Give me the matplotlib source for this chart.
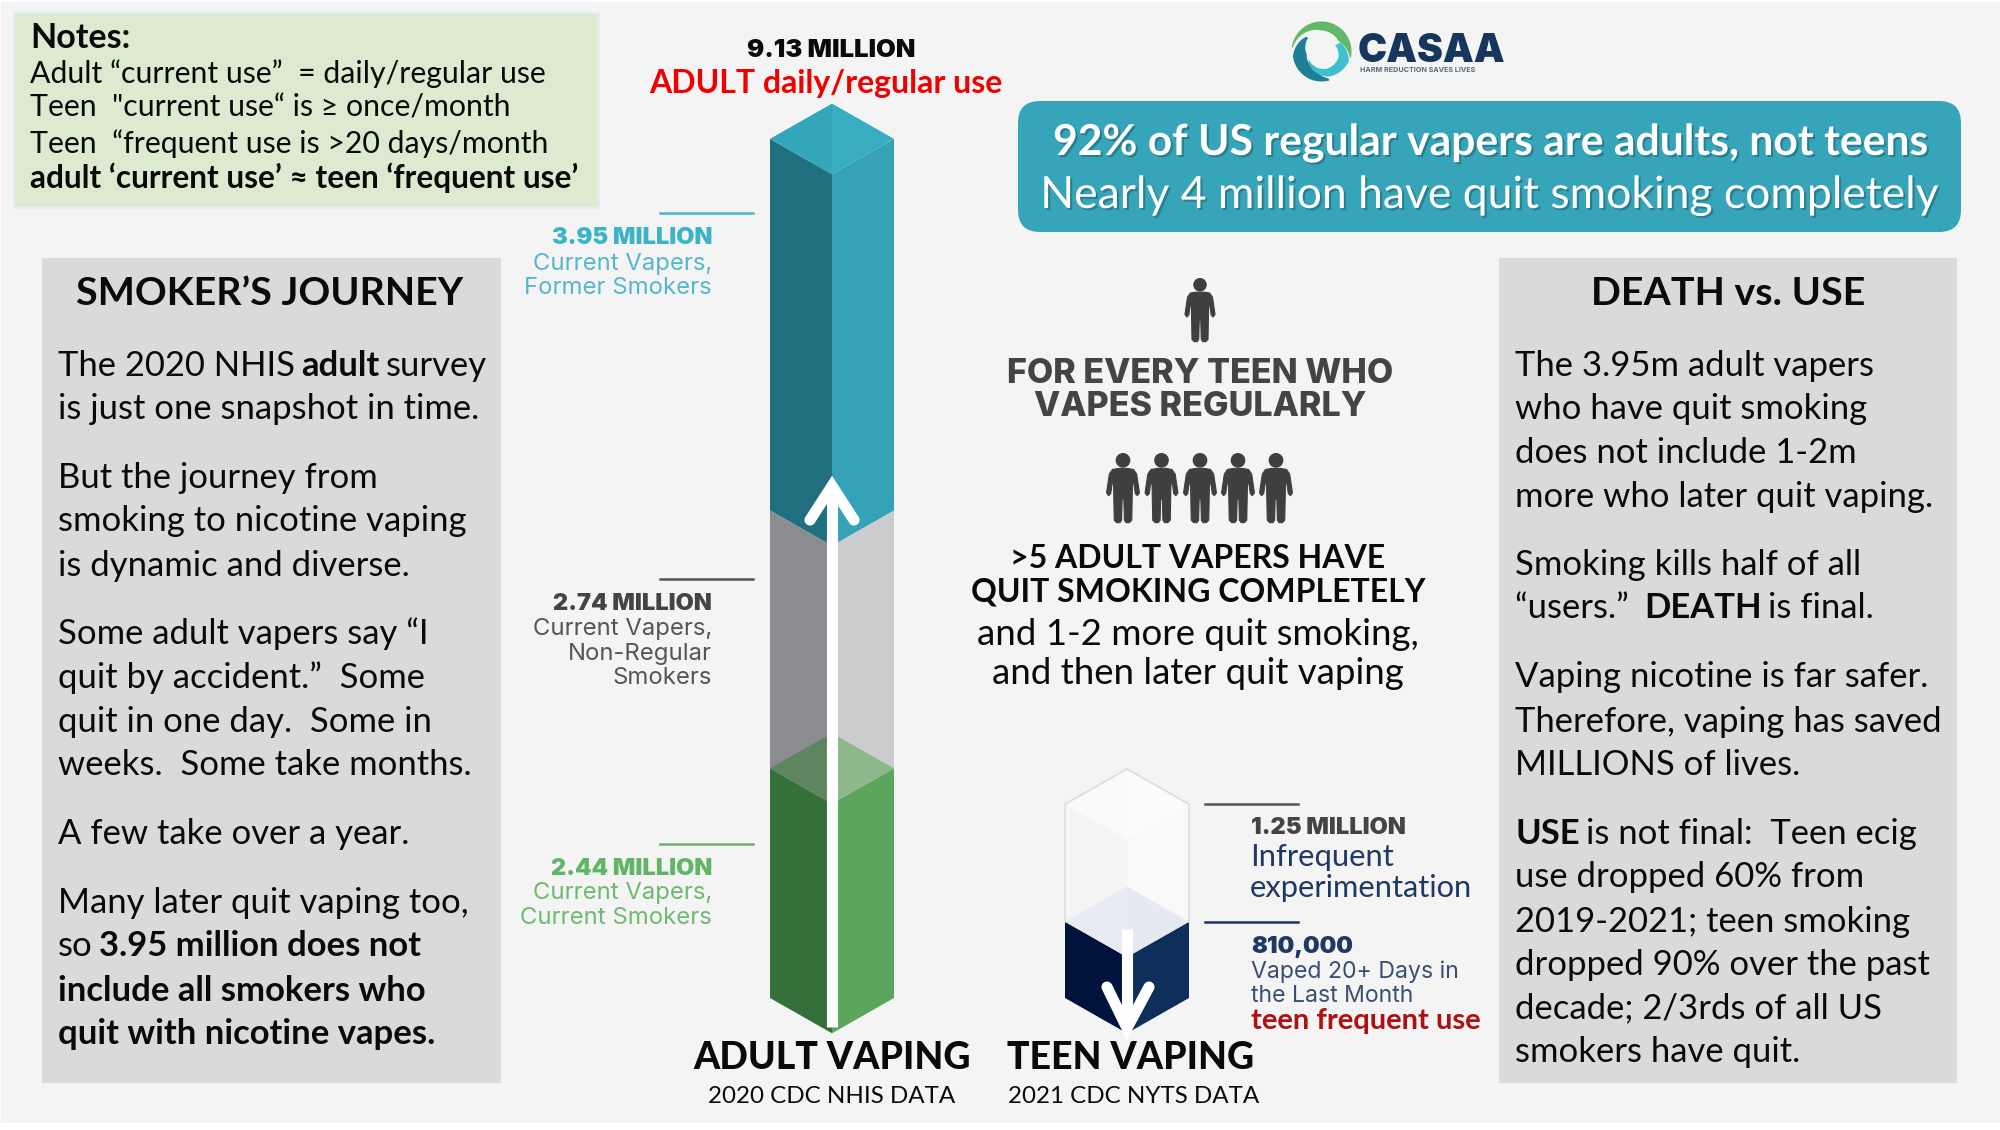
import matplotlib
matplotlib.use("Agg")
import matplotlib.pyplot as plt
import matplotlib.patheffects as pe
import numpy as np
from matplotlib.patches import Rectangle, FancyBboxPatch, Polygon, Circle

W, H = 2000, 1130
BODY = "Lato"
HEAD = "Inter"

# values in millions, bottom to top
adult_labels = ["2.44 MILLION", "2.74 MILLION", "3.95 MILLION"]
adult_values = [2.44, 2.74, 3.95]
teen_labels = ["810,000", "1.25 MILLION"]
teen_values = [0.81, 1.25]

notes_lines = [
    "Adult \u201ccurrent use\u201d  = daily/regular use",
    "Teen  \"current use\u201c is \u2265 once/month",
    "Teen  \u201cfrequent use is >20 days/month",
]
notes_bold = "adult \u2018current use\u2019 \u2248 teen \u2018frequent use\u2019"

# (display row, runs), a run with True is bold
left_panel = [
    (286, [("The 2020 NHIS", False), ("adult", True), ("survey", False)]),
    (320, [("is just one snapshot in time.", False)]),
    (374, [("But the journey from", False)]),
    (408, [("smoking to nicotine vaping", False)]),
    (443, [("is dynamic and diverse.", False)]),
    (496, [("Some adult vapers say \u201cI", False)]),
    (531, [("quit by accident.\u201d  Some", False)]),
    (565, [("quit in one day.  Some in", False)]),
    (599, [("weeks.  Some take months.", False)]),
    (653, [("A few take over a year.", False)]),
    (707, [("Many later quit vaping too,", False)]),
    (741, [("so", False), ("3.95 million does not", True)]),
    (776, [("include all smokers who", True)]),
    (810, [("quit with nicotine vapes.", True)]),
]
right_panel = [
    (286, [("The 3.95m adult vapers", False)]),
    (320, [("who have quit smoking", False)]),
    (354, [("does not include 1-2m", False)]),
    (389, [("more who later quit vaping.", False)]),
    (442, [("Smoking kills half of all", False)]),
    (476, [("\u201cusers.\u201d ", False), ("DEATH", True), ("is final.", False)]),
    (530, [("Vaping nicotine is far safer.", False)]),
    (565, [("Therefore, vaping has saved", False)]),
    (599, [("MILLIONS of lives.", False)]),
    (653, [("USE", True), ("is not final:  Teen ecig", False)]),
    (687, [("use dropped 60% from", False)]),
    (722, [("2019-2021; teen smoking", False)]),
    (756, [("dropped 90% over the past", False)]),
    (790, [("decade; 2/3rds of all US", False)]),
    (824, [("smokers have quit.", False)]),
]


def draw_runs(ax, x, y, runs, size):
    renderer = ax.figure.canvas.get_renderer()
    for text, bold in runs:
        t = ax.text(x, y, text, fontsize=size, family=BODY, color="#0a0a0a", va="baseline",
                    fontweight="bold" if bold else "normal")
        x = t.get_window_extent(renderer).x1 + size * 0.26


def draw_segment(ax, cx, bottom, top, rise, left, right):
    ax.add_patch(Polygon([(cx - 1, bottom), (cx, bottom - rise), (cx, top - rise), (cx - 1, top)],
                         facecolor=left, edgecolor="none"))
    ax.add_patch(Polygon([(cx + 1, bottom), (cx, bottom - rise), (cx, top - rise), (cx + 1, top)],
                         facecolor=right, edgecolor="none"))


def draw_cap(ax, cx, top, rise, left, right):
    ax.add_patch(Polygon([(cx - 1, top), (cx, top + rise), (cx, top - rise)], facecolor=left, edgecolor="none"))
    ax.add_patch(Polygon([(cx + 1, top), (cx, top + rise), (cx, top - rise)], facecolor=right, edgecolor="none"))


def draw_person(ax, cx, top, h):
    c = "#3f3f41"
    half = [(0.06, 0.22), (0.15, 0.235), (0.195, 0.30), (0.235, 0.57), (0.205, 0.61), (0.175, 0.58), (0.155, 0.43),
            (0.135, 0.45), (0.125, 0.96), (0.09, 0.995), (0.045, 0.995), (0.02, 0.96), (0.012, 0.66)]
    pts = [(cx + a * h, top + b * h) for a, b in half]
    pts += [(cx - a * h, top + b * h) for a, b in half[::-1]]
    ax.add_patch(Polygon(pts, facecolor=c, edgecolor=c, linewidth=0.8, joinstyle="round"))
    ax.add_patch(Circle((cx, top + 0.105 * h), 0.105 * h, facecolor=c, edgecolor="none"))


def draw_swirl(ax, cx, cy, angles, r_out, r_in, color):
    th = np.linspace(angles[0], angles[-1], 80)
    # np.interp needs rising x, the green arc runs clockwise
    order = np.argsort(angles)
    ro = np.interp(th, np.array(angles)[order], np.array(r_out)[order])
    ri = np.interp(th, np.array(angles)[order], np.array(r_in)[order])
    rad = np.radians(th)
    xs = np.concatenate([cx + ro * np.cos(rad), (cx + ri * np.cos(rad))[::-1]])
    ys = np.concatenate([cy - ro * np.sin(rad), (cy - ri * np.sin(rad))[::-1]])
    ax.add_patch(Polygon(np.column_stack([xs, ys]), facecolor=color, edgecolor="none"))


fig = plt.figure(figsize=(W / 100, H / 100), dpi=100)
fig.patch.set_facecolor("white")
ax = fig.add_axes([0, 0, 1, 1])
ax.set_xlim(0, W)
ax.set_ylim(H, 0)
ax.axis("off")

ax.add_patch(Rectangle((1, 2), W, 1121, facecolor="#f4f4f4", edgecolor="none"))
ax.add_patch(Rectangle((14, 13), 585, 195, facecolor="#dcead0", edgecolor="#e3edf2", linewidth=1.5))
ax.add_patch(Rectangle((42, 258), 459, 825, facecolor="#d9dadc", edgecolor="none"))
ax.add_patch(Rectangle((1499, 258), 458, 825, facecolor="#d9dadc", edgecolor="none"))
ax.add_patch(FancyBboxPatch((1018, 101), 943, 131, boxstyle="round,pad=0,rounding_size=22", facecolor="#37a5b9",
                            edgecolor="none"))

# notes box
ax.text(30, 48, "Notes:", fontsize=24.5, family=BODY, fontweight="bold", color="#0a0a0a")
for y, line in zip([83, 117, 153], notes_lines):
    ax.text(30, y, line, fontsize=21.8, family=BODY, color="#0a0a0a")
ax.text(30, 188, notes_bold, fontsize=22.8, family=BODY, fontweight="bold", color="#0a0a0a")

# side panels
ax.text(270, 305, "SMOKER\u2019S JOURNEY", fontsize=28.4, family=BODY, fontweight="bold", ha="center", color="#0a0a0a")
ax.text(1728, 305, "DEATH vs. USE", fontsize=28.4, family=BODY, fontweight="bold", ha="center", color="#0a0a0a")
for row, runs in left_panel:
    draw_runs(ax, 57.5, row * 1.2755 + 11, runs, 24.9)
for row, runs in right_panel:
    draw_runs(ax, 1515, row * 1.2755 + 11, runs, 24.9)

# banner
shadow = [pe.SimplePatchShadow(offset=(1.5, -1.5), alpha=0.45, shadow_rgbFace="#16505c"), pe.Normal()]
ax.text(1490, 155, "92% of US regular vapers are adults, not teens", fontsize=30.7, family=BODY, fontweight="bold",
        ha="center", color="white", path_effects=shadow)
ax.text(1490, 208, "Nearly 4 million have quit smoking completely", fontsize=32, family=BODY,
        ha="center", color="white", path_effects=shadow)

# logo
draw_swirl(ax, 1321.5, 51.5, [172, 90, 30, -12], [30, 30, 30, 30], [29, 21, 20, 29], "#62b768")
draw_swirl(ax, 1321.5, 51.5, [135, 190, 250, 285], [21, 29, 30, 30], [19, 15, 19, 28], "#1f7f96")
draw_swirl(ax, 1321.5, 51.5, [215, 285, 340, 385], [16, 26, 29, 21], [15, 18, 18, 15], "#3fc0cf")
ax.text(1358, 62, "CASAA", fontsize=28, family=HEAD, fontweight="black", color="#17365d")
ax.text(1360, 72, "HARM REDUCTION SAVES LIVES", fontsize=5.2, family=HEAD, fontweight="bold", color="#5a6a7c")

# people
draw_person(ax, 1200, 278, 64)
for cx in [1123, 1161.5, 1200, 1238, 1276]:
    draw_person(ax, cx, 453, 70)
ax.text(1200, 383, "FOR EVERY TEEN WHO", fontsize=24.6, family=HEAD, fontweight="heavy", ha="center", color="#444446")
ax.text(1200, 416, "VAPES REGULARLY", fontsize=24.6, family=HEAD, fontweight="heavy", ha="center", color="#444446")
ax.text(1198, 568, ">5 ADULT VAPERS HAVE", fontsize=23, family=BODY, fontweight="bold", ha="center", color="#0a0a0a")
ax.text(1198, 601, "QUIT SMOKING COMPLETELY", fontsize=23, family=BODY, fontweight="bold", ha="center", color="#0a0a0a")
ax.text(1198, 645, "and 1-2 more quit smoking,", fontsize=26.4, family=BODY, ha="center", color="#0a0a0a")
ax.text(1198, 684, "and then later quit vaping", fontsize=26.4, family=BODY, ha="center", color="#0a0a0a")

# column labels
ax.text(831, 57, "9.13 MILLION", fontsize=18.4, family=HEAD, fontweight="black", ha="center", color="#0a0a0a")
ax.text(826, 93, "ADULT daily/regular use", fontsize=23, family=BODY, fontweight="bold", ha="center", color="#f00000")

ax.plot([660, 753], [213, 213], color="#4cb8ca", lw=1.8)
ax.text(712, 244, adult_labels[2], fontsize=17, family=HEAD, fontweight="black", ha="right", color="#3bb4c8")
ax.text(712, 270, "Current Vapers,", fontsize=17.2, family=HEAD, ha="right", color="#55b8ca")
ax.text(712, 294, "Former Smokers", fontsize=17.2, family=HEAD, ha="right", color="#55b8ca")

ax.plot([660, 753], [579, 579], color="#555555", lw=1.8)
ax.text(712, 610, adult_labels[1], fontsize=17, family=HEAD, fontweight="black", ha="right", color="#444446")
ax.text(712, 635, "Current Vapers,", fontsize=17.2, family=HEAD, ha="right", color="#555558")
ax.text(712, 660, "Non-Regular", fontsize=17.2, family=HEAD, ha="right", color="#555558")
ax.text(712, 684, "Smokers", fontsize=17.2, family=HEAD, ha="right", color="#555558")

ax.plot([660, 753], [844, 844], color="#6db56f", lw=1.8)
ax.text(712, 875, adult_labels[0], fontsize=17, family=HEAD, fontweight="black", ha="right", color="#62b566")
ax.text(712, 899, "Current Vapers,", fontsize=17.2, family=HEAD, ha="right", color="#6dba70")
ax.text(712, 924, "Current Smokers", fontsize=17.2, family=HEAD, ha="right", color="#6dba70")

ax.plot([1205, 1298], [804, 804], color="#555555", lw=1.8)
ax.text(1251, 834, teen_labels[1], fontsize=17, family=HEAD, fontweight="black", color="#444446")
ax.text(1250, 866, "Infrequent", fontsize=22.2, family=BODY, color="#1f3864")
ax.text(1250, 897, "experimentation", fontsize=22.2, family=BODY, color="#1f3864")

ax.plot([1205, 1298], [922, 922], color="#1f3864", lw=1.8)
ax.text(1251, 953, teen_labels[0], fontsize=17, family=HEAD, fontweight="black", color="#1f3864")
ax.text(1251, 978, "Vaped 20+ Days in", fontsize=16.6, family=HEAD, color="#3a4f70")
ax.text(1251, 1002, "the Last Month", fontsize=16.6, family=HEAD, color="#3a4f70")
ax.text(1251, 1029, "teen frequent use", fontsize=21, family=BODY, fontweight="bold", color="#b01010")

ax.text(832, 1069, "ADULT VAPING", fontsize=27, family=BODY, fontweight="black", ha="center", color="#0a0a0a")
ax.text(1131, 1069, "TEEN VAPING", fontsize=27, family=BODY, fontweight="black", ha="center", color="#0a0a0a")
ax.text(832, 1103, "2020 CDC NHIS DATA", fontsize=17.4, family=BODY, ha="center", color="#0a0a0a")
ax.text(1134, 1103, "2021 CDC NYTS DATA", fontsize=17.4, family=BODY, ha="center", color="#0a0a0a")

# columns: y in millions, x in half-widths of a column
col = fig.add_axes([0, 0, 1, 1])
col.set_xlim(-832 / 62, (W - 832) / 62)
col.set_ylim(-(H - 998) / 94.1, 998 / 94.1)
col.axis("off")
rise = 0.375

a0, a1, a2 = adult_values
draw_segment(col, 0, a0 + a1, a0 + a1 + a2, rise, "#1f6f7f", "#35a2b7")
draw_cap(col, 0, a0 + a1 + a2, rise, "#34a6ba", "#38adc0")
draw_segment(col, 0, a0, a0 + a1, rise, "#8b8c8f", "#cbccce")
draw_segment(col, 0, 0, a0, rise, "#35703b", "#5ba65c")
draw_cap(col, 0, a0, rise, "#5e8560", "#8db88b")

teen_x = (1127 - 832) / 62
t0, t1 = teen_values
draw_segment(col, teen_x, t0, t0 + t1, rise, "#f5f5f6", "#f9f9fa")
draw_cap(col, teen_x, t0 + t1, rise, "#fafafb", "#fbfbfc")
col.plot([teen_x - 1, teen_x - 1, teen_x, teen_x + 1, teen_x + 1], [t0, t0 + t1, t0 + t1 + rise, t0 + t1, t0],
         color="#dcdcdc", lw=1.2)
draw_segment(col, teen_x, 0, t0, rise, "#00133a", "#0e2f5a")
draw_cap(col, teen_x, t0, rise, "#e8ebf1", "#e6eaf0")

# white arrows on top of the columns
top = fig.add_axes([0, 0, 1, 1])
top.set_xlim(0, W)
top.set_ylim(H, 0)
top.axis("off")
top.plot([832, 832], [1027, 490], color="white", lw=8, solid_capstyle="butt")
top.plot([810, 832, 854], [520, 486, 520], color="white", lw=8, solid_capstyle="round", solid_joinstyle="miter")
top.plot([1127, 1127], [929, 1026], color="white", lw=8, solid_capstyle="butt")
top.plot([1107, 1127, 1149], [987, 1028, 987], color="white", lw=8, solid_capstyle="round", solid_joinstyle="miter")

fig.savefig("out.png", dpi=100)
